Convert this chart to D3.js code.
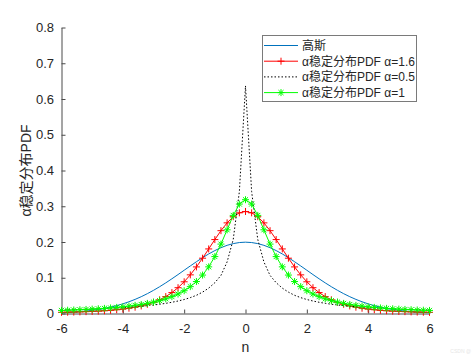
<!DOCTYPE html>
<html>
<head>
<meta charset="utf-8">
<script src="https://cdn.jsdelivr.net/npm/d3@7/dist/d3.min.js"></script>
<style>
  html, body { margin: 0; padding: 0; background: #fff; }
  svg { display: block; }
  text { font-family: "Liberation Sans", Arial, "Noto Sans CJK SC", sans-serif; }
</style>
</head>
<body>
<svg id="chart" width="474" height="355"></svg>
<script>
// ---------- data ----------
const nValues = [-6,-5.8,-5.6,-5.4,-5.2,-5,-4.8,-4.6,-4.4,-4.2,-4,-3.8,-3.6,-3.4,-3.2,-3,-2.8,-2.6,-2.4,-2.2,-2,-1.8,-1.6,-1.4,-1.2,-1,-0.8,-0.6,-0.4,-0.2,0,0.2,0.4,0.6,0.8,1,1.2,1.4,1.6,1.8,2,2.2,2.4,2.6,2.8,3,3.2,3.4,3.6,3.8,4,4.2,4.4,4.6,4.8,5,5.2,5.4,5.6,5.8,6];

const gaussPdf = [0.0022,0.0030,0.0040,0.0052,0.0068,0.0088,0.0112,0.0142,0.0177,0.0220,0.0270,0.0328,0.0395,0.0470,0.0555,0.0648,0.0749,0.0857,0.0971,0.1089,0.1210,0.1330,0.1448,0.1561,0.1666,0.1760,0.1841,0.1907,0.1955,0.1985,0.1995,0.1985,0.1955,0.1907,0.1841,0.1760,0.1666,0.1561,0.1448,0.1330,0.1210,0.1089,0.0971,0.0857,0.0749,0.0648,0.0555,0.0470,0.0395,0.0328,0.0270,0.0220,0.0177,0.0142,0.0112,0.0088,0.0068,0.0052,0.0040,0.0030,0.0022];

const stable16Pdf = [0.0033,0.0037,0.0041,0.0046,0.0052,0.0059,0.0067,0.0077,0.0090,0.0105,0.0124,0.0148,0.0177,0.0212,0.0257,0.0313,0.0384,0.0473,0.0585,0.0722,0.0887,0.1081,0.1303,0.1547,0.1806,0.2068,0.2317,0.2535,0.2707,0.2816,0.2854,0.2816,0.2707,0.2535,0.2317,0.2068,0.1806,0.1547,0.1303,0.1081,0.0887,0.0722,0.0585,0.0473,0.0384,0.0313,0.0257,0.0212,0.0177,0.0148,0.0124,0.0105,0.0090,0.0077,0.0067,0.0059,0.0052,0.0046,0.0041,0.0037,0.0033];

const stable05Pdf = [0.0097,0.0102,0.0106,0.0112,0.0117,0.0124,0.0130,0.0138,0.0146,0.0155,0.0165,0.0176,0.0189,0.0203,0.0219,0.0238,0.0259,0.0284,0.0314,0.0349,0.0391,0.0444,0.0509,0.0598,0.0710,0.0861,0.1066,0.1443,0.2071,0.3411,0.6366,0.3411,0.2071,0.1443,0.1066,0.0861,0.0710,0.0598,0.0509,0.0444,0.0391,0.0349,0.0314,0.0284,0.0259,0.0238,0.0219,0.0203,0.0189,0.0176,0.0165,0.0155,0.0146,0.0138,0.0130,0.0124,0.0117,0.0112,0.0106,0.0102,0.0097];

const stable1Pdf = [0.0086,0.0092,0.0098,0.0106,0.0114,0.0122,0.0132,0.0144,0.0156,0.0171,0.0187,0.0206,0.0228,0.0253,0.0283,0.0318,0.0360,0.0410,0.0471,0.0545,0.0637,0.0751,0.0894,0.1075,0.1305,0.1592,0.1941,0.2341,0.2744,0.3061,0.3183,0.3061,0.2744,0.2341,0.1941,0.1592,0.1305,0.1075,0.0894,0.0751,0.0637,0.0545,0.0471,0.0410,0.0360,0.0318,0.0283,0.0253,0.0228,0.0206,0.0187,0.0171,0.0156,0.0144,0.0132,0.0122,0.0114,0.0106,0.0098,0.0092,0.0086];

const seriesNames = ["高斯", "α稳定分布PDF α=1.6", "α稳定分布PDF α=0.5", "α稳定分布PDF α=1"];
const xTicks = [-6,-4,-2,0,2,4,6];
const xTickLabels = ["-6","-4","-2","0","2","4","6"];
const yTicks = [0,0.1,0.2,0.3,0.4,0.5,0.6,0.7,0.8];
const yTickLabels = ["0","0.1","0.2","0.3","0.4","0.5","0.6","0.7","0.8"];
const xLabel = "n";
const yLabel = "α稳定分布PDF";

// ---------- drawing ----------
const svg = d3.select("#chart");
const x = d3.scaleLinear().domain([-6, 6]).range([61.5, 429.5]);
const y = d3.scaleLinear().domain([0, 0.8]).range([313.5, 27.5]);
const axisColor = "#4a4a4a";

// axes
const xAxis = d3.axisBottom(x).tickValues(xTicks)
  .tickFormat((d, i) => xTickLabels[i]).tickSizeInner(-4).tickSizeOuter(0).tickPadding(10.5);
const yAxis = d3.axisLeft(y).tickValues(yTicks)
  .tickFormat((d, i) => yTickLabels[i]).tickSizeInner(-4).tickSizeOuter(0).tickPadding(7.5);

const gx = svg.append("g").attr("transform", `translate(0,${y(0)})`).call(xAxis);
const gy = svg.append("g").attr("transform", `translate(${x(-6)},0)`).call(yAxis);
[gx, gy].forEach(g => {
  g.select(".domain").attr("stroke", axisColor).attr("stroke-width", 1);
  g.selectAll(".tick line").attr("stroke", axisColor).attr("stroke-width", 1);
  g.selectAll(".tick text").attr("fill", "#262626").style("font-size", "13px")
    .style("font-family", '"Liberation Sans", Arial, sans-serif');
});

// axis labels
svg.append("text").attr("x", x(0)).attr("y", 352).attr("text-anchor", "middle")
  .attr("fill", "#262626").style("font-size", "14px").text(xLabel);
svg.append("text").attr("transform", `translate(31,${(y(0) + y(0.8)) / 2}) rotate(-90)`)
  .attr("text-anchor", "middle").attr("fill", "#262626").style("font-size", "14px").text(yLabel);

const pts = vals => nValues.map((n, i) => [n, vals[i]]);
const line = d3.line().x(d => x(d[0])).y(d => y(d[1]));

function plusPath(cx, cy, r) {
  return `M${cx - r},${cy}H${cx + r}M${cx},${cy - r}V${cy + r}`;
}
function starPath(cx, cy, r) {
  const q = r * 0.72;
  return plusPath(cx, cy, r) + `M${cx - q},${cy - q}L${cx + q},${cy + q}M${cx - q},${cy + q}L${cx + q},${cy - q}`;
}

const plot = svg.append("g");
// Gaussian
plot.append("path").datum(pts(gaussPdf)).attr("d", line)
  .attr("fill", "none").attr("stroke", "#0072BD").attr("stroke-width", 1);
// alpha = 1.6
plot.append("path").datum(pts(stable16Pdf)).attr("d", line)
  .attr("fill", "none").attr("stroke", "#ff0000").attr("stroke-width", 1);
plot.append("path").attr("d", pts(stable16Pdf).map(d => plusPath(x(d[0]), y(d[1]), 3.5)).join(""))
  .attr("fill", "none").attr("stroke", "#ff0000").attr("stroke-width", 1);
// alpha = 0.5
plot.append("path").datum(pts(stable05Pdf)).attr("d", line)
  .attr("fill", "none").attr("stroke", "#000").attr("stroke-width", 1)
  .attr("stroke-dasharray", "1.5,2");
// alpha = 1
plot.append("path").datum(pts(stable1Pdf)).attr("d", line)
  .attr("fill", "none").attr("stroke", "#00ff00").attr("stroke-width", 1);
plot.append("path").attr("d", pts(stable1Pdf).map(d => starPath(x(d[0]), y(d[1]), 3.5)).join(""))
  .attr("fill", "none").attr("stroke", "#00ff00").attr("stroke-width", 1);

// legend
const lg = svg.append("g");
lg.append("rect").attr("x", 262.5).attr("y", 35.5).attr("width", 154).attr("height", 66)
  .attr("fill", "#fff").attr("stroke", "#7a7a7a").attr("stroke-width", 1);
const legendStyles = [
  { color: "#0072BD", dash: null, marker: null },
  { color: "#ff0000", dash: null, marker: "plus" },
  { color: "#000", dash: "1.5,2", marker: null },
  { color: "#00ff00", dash: null, marker: "star" }
];
seriesNames.forEach((name, i) => {
  const cy = 45.5 + i * 15.7;
  const st = legendStyles[i];
  const l = lg.append("line").attr("x1", 264).attr("x2", 298).attr("y1", cy).attr("y2", cy)
    .attr("stroke", st.color).attr("stroke-width", 1);
  if (st.dash) l.attr("stroke-dasharray", st.dash);
  if (st.marker === "plus") lg.append("path").attr("d", plusPath(281, cy, 3.5)).attr("stroke", st.color).attr("fill", "none");
  if (st.marker === "star") lg.append("path").attr("d", starPath(281, cy, 3.5)).attr("stroke", st.color).attr("fill", "none");
  lg.append("text").attr("x", 302).attr("y", cy).attr("dy", "0.36em")
    .attr("fill", "#262626").style("font-size", "12px").text(name);
});

// faint watermark
svg.append("text").attr("x", 471).attr("y", 353).attr("text-anchor", "end")
  .attr("fill", "#e6e6e6").style("font-size", "5px").text("CSDN @");
</script>
</body>
</html>
